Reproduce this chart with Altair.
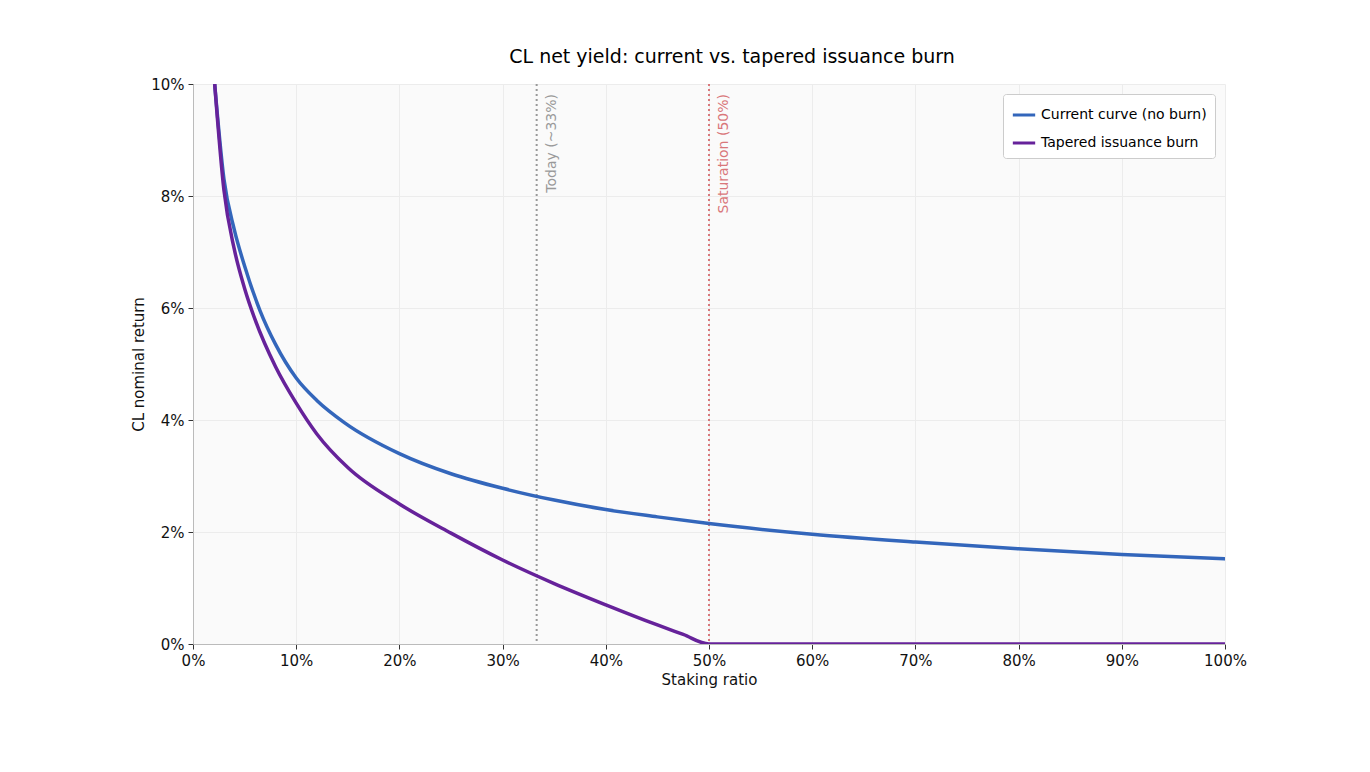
import altair as alt
import pandas as pd

# staking ratio (fraction) and CL yield (%)
cur_x = [0.021, 0.03, 0.04, 0.05, 0.065, 0.08, 0.10, 0.12, 0.147, 0.20, 0.25, 0.30,
         0.35, 0.40, 0.45, 0.50, 0.60, 0.70, 0.80, 0.90, 1.00]
cur_y = [10.0, 8.3, 7.4, 6.75, 5.95, 5.35, 4.75, 4.35, 3.95, 3.4, 3.04, 2.78,
         2.57, 2.40, 2.27, 2.15, 1.96, 1.82, 1.70, 1.60, 1.52]
tap_x = [0.021, 0.03, 0.04, 0.05, 0.06, 0.08, 0.10, 0.12, 0.15, 0.20, 0.25, 0.30,
         0.35, 0.40, 0.45, 0.475, 0.50, 0.75, 1.00]
tap_y = [10.0, 8.1, 7.05, 6.35, 5.8, 4.95, 4.3, 3.75, 3.15, 2.5, 1.98, 1.5,
         1.08, 0.7, 0.34, 0.17, 0.0, 0.0, 0.0]

s1 = "Current curve (no burn)"
s2 = "Tapered issuance burn"
df = pd.concat([
    pd.DataFrame({"x": cur_x, "y": [v / 100 for v in cur_y], "series": s1}),
    pd.DataFrame({"x": tap_x, "y": [v / 100 for v in tap_y], "series": s2}),
])

marks = pd.DataFrame({"x": [0.333, 0.5], "label": ["Today (~33%)", "Saturation (50%)"],
                      "color": ["#999999", "#d9777a"]})

font = "DejaVu Sans"
xs = alt.Scale(domain=[0, 1], nice=False)
ys = alt.Scale(domain=[0, 0.1], nice=False)

lines = alt.Chart(df).mark_line(strokeWidth=3.5, clip=True, interpolate="monotone").encode(
    x=alt.X("x:Q", scale=xs, title="Staking ratio",
            axis=alt.Axis(format=".0%", values=[i / 10 for i in range(11)], labelFlush=False)),
    y=alt.Y("y:Q", scale=ys, title="CL nominal return",
            axis=alt.Axis(format=".0%", values=[0, 0.02, 0.04, 0.06, 0.08, 0.1])),
    color=alt.Color("series:N", sort=[s1, s2],
                    scale=alt.Scale(domain=[s1, s2], range=["#3366bb", "#66229a"]),
                    legend=alt.Legend(title=None, orient="top-right", fillColor="white",
                                      strokeColor="#cccccc", padding=8, cornerRadius=3,
                                      symbolType="stroke", symbolStrokeWidth=3,
                                      symbolSize=500, labelFontSize=14, labelFont=font,
                                      labelLimit=0, offset=10, rowPadding=8)),
)

rules = alt.Chart(marks).mark_rule(strokeDash=[2, 3], strokeWidth=2).encode(
    x="x:Q", color=alt.Color("color:N", scale=None)
)
texts = alt.Chart(marks).mark_text(angle=270, align="right", baseline="top", dx=-10, dy=8,
                                   fontSize=14, font=font).encode(
    x="x:Q", y=alt.value(0), text="label:N", color=alt.Color("color:N", scale=None)
)

chart = alt.layer(rules, texts, lines).properties(
    width=1032, height=560,
    title=alt.Title("CL net yield: current vs. tapered issuance burn", fontSize=19,
                    fontWeight="normal", font=font, offset=10, dx=23),
    padding={"left": 123, "top": 40, "right": 80, "bottom": 40},
).configure_view(fill="#fafafa", stroke=None).configure_axis(
    labelFont=font, titleFont=font, labelFontSize=15, titleFontSize=15,
    titleFontWeight="normal", gridColor="#ececec", domainColor="#bbbbbb",
    tickColor="#333333", labelColor="#111111", titleColor="#111111", labelPadding=4
)

chart.save("out.html", embed_options={"renderer": "svg", "actions": False})
